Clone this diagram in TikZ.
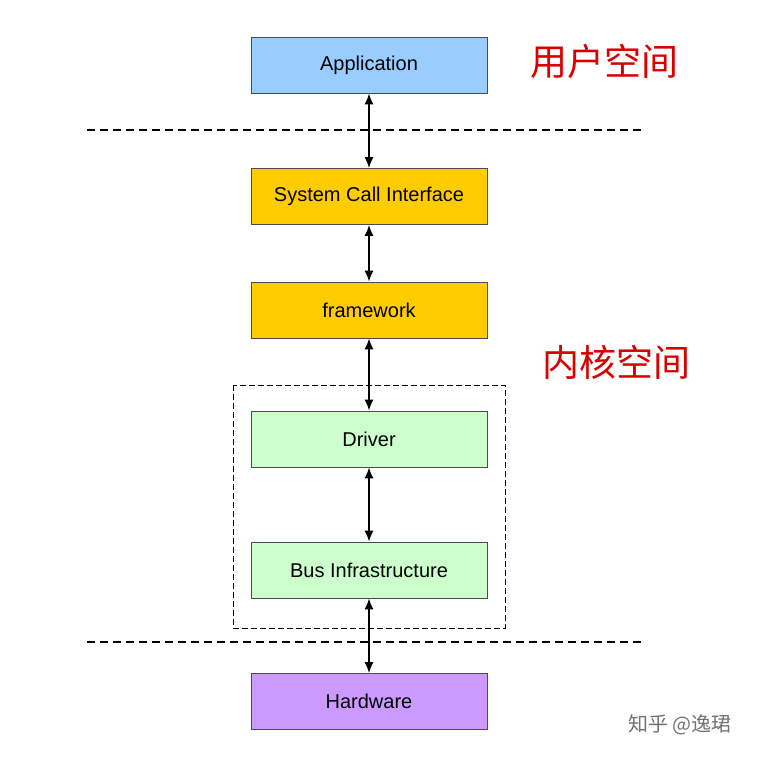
\documentclass[tikz,border=0pt]{standalone}
\usepackage{fontspec}
\usetikzlibrary{arrows.meta}
\setmainfont{Liberation Sans}
\newfontfamily\cjk{Noto Sans CJK SC}
\begin{document}
\begin{tikzpicture}[x=1pt,y=-1pt,
  box/.style={draw=black!70,line width=0.8pt,minimum width=236pt,minimum height=56pt,inner sep=0pt,font=\fontsize{20}{22}\selectfont},
  arr/.style={{Latex[length=11pt,width=9pt]}-{Latex[length=11pt,width=9pt]},line width=1.4pt},
  dl/.style={line width=1.2pt,dash pattern=on 8pt off 5pt},
  zh/.style={text=red!85!black,font=\cjk\fontsize{37}{40}\selectfont}]
\useasboundingbox (0,0) rectangle (759,757);
\fill[white] (0,0) rectangle (759,757);
\definecolor{cblue}{HTML}{99CCFF}
\definecolor{corange}{HTML}{FFCC00}
\definecolor{cgreen}{HTML}{CCFFCC}
\definecolor{cpurple}{HTML}{CC99FF}
\node[box,fill=cblue] (app) at (369,65) {Application};
\node[box,fill=corange] (sci) at (369,196.5) {System Call Interface};
\node[box,fill=corange] (fw) at (369,310) {framework};
\node[box,fill=cgreen] (drv) at (369,439) {Driver};
\node[box,fill=cgreen] (bus) at (369,570) {Bus Infrastructure};
\node[box,fill=cpurple] (hw) at (369,701.5) {Hardware};
\coordinate (l1a) at (87,130); \coordinate (l1b) at (645,130);
\coordinate (l2a) at (87,642); \coordinate (l2b) at (645,642);
\draw[dl] (l1a) -- (l1b);
\draw[dl] (l2a) -- (l2b);
\coordinate (ra) at (233,385); \coordinate (rb) at (505,628);
\draw[line width=1pt,dash pattern=on 6pt off 3pt] (ra) rectangle (rb);
\draw[arr] (app) -- (sci);
\draw[arr] (sci) -- (fw);
\draw[arr] (fw) -- (drv);
\draw[arr] (drv) -- (bus);
\draw[arr] (bus) -- (hw);
\node[zh] (us) at (604,61) {用户空间};
\node[zh] (ks) at (616,362) {内核空间};
\node[text=black!55,font=\cjk\fontsize{20}{22}\selectfont] (wm) at (680,725) {知乎 @逸珺};
\end{tikzpicture}
\end{document}
